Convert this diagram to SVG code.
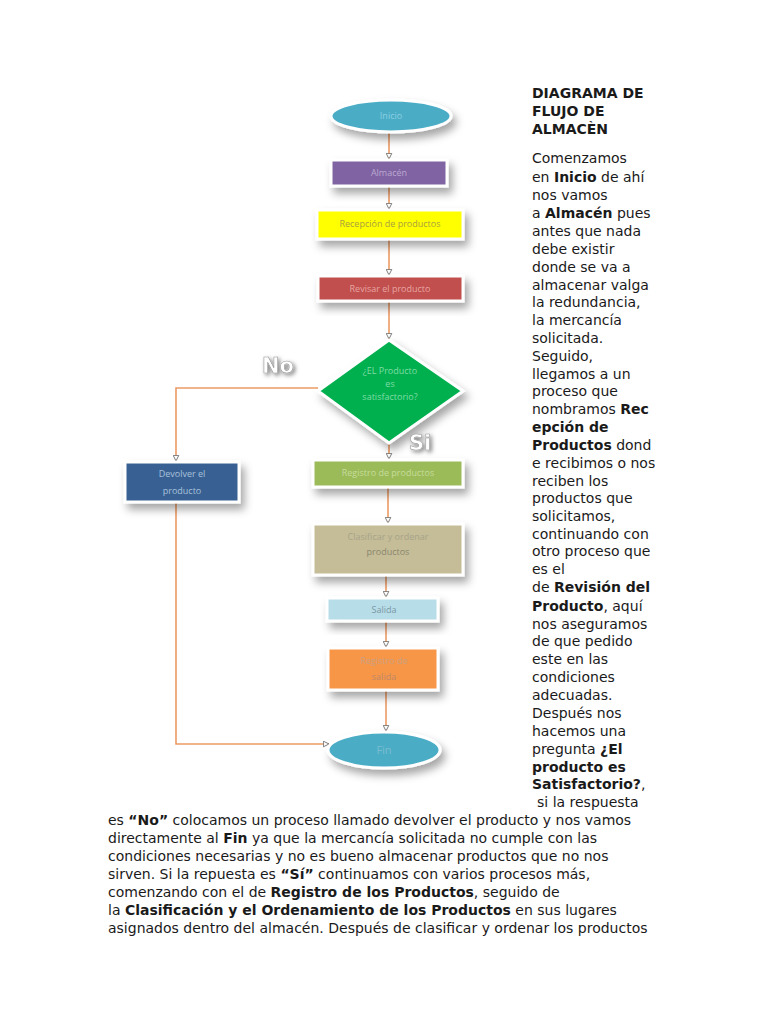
<svg xmlns="http://www.w3.org/2000/svg" width="768" height="1024" viewBox="0 0 768 1024">
<defs>
<filter id="sh" x="-30%" y="-40%" width="170%" height="200%">
<feDropShadow dx="4" dy="6" stdDeviation="4" flood-color="#000" flood-opacity="0.35"/>
</filter>
<filter id="tsh" x="-50%" y="-50%" width="200%" height="200%">
<feDropShadow dx="2" dy="2" stdDeviation="2" flood-color="#000" flood-opacity="0.5"/>
</filter>
<marker id="ah" viewBox="0 0 10 10" refX="9" refY="5" markerWidth="7" markerHeight="7" orient="auto" markerUnits="userSpaceOnUse">
<path d="M1,1 L9,5 L1,9 Z" fill="#fff" stroke="#666" stroke-width="1.2"/>
</marker>
</defs>
<style>
.box{stroke:#fff;stroke-width:3;filter:url(#sh)}
.lbl{font-family:"Open Sans","Liberation Sans",sans-serif;font-size:9px;text-anchor:middle}
.con{fill:none;stroke:#EC9A64;stroke-width:1.6}
.body{font-family:"DejaVu Sans",sans-serif;font-size:14px;fill:#1a1a1a}
.b{font-weight:bold}
.yn{font-family:"DejaVu Sans","Liberation Sans",sans-serif;font-weight:bold;font-size:21px;fill:#fff;stroke:#999;stroke-width:0.6;filter:url(#tsh)}
</style>
<rect width="768" height="1024" fill="#fff"/>

<g id="connectors">
<path class="con" d="M389,133 V159" marker-end="url(#ah)"/>
<path class="con" d="M389,187 V209" marker-end="url(#ah)"/>
<path class="con" d="M389,240 V275" marker-end="url(#ah)"/>
<path class="con" d="M389,302 V339" marker-end="url(#ah)"/>
<path class="con" d="M389,443 V459" marker-end="url(#ah)"/>
<path class="con" d="M388,488 V523" marker-end="url(#ah)"/>
<path class="con" d="M386,576 V597" marker-end="url(#ah)"/>
<path class="con" d="M386,622 V647" marker-end="url(#ah)"/>
<path class="con" d="M386,691 V731" marker-end="url(#ah)"/>
<path class="con" d="M318,388 H176 V461" marker-end="url(#ah)"/>
<path class="con" d="M176,503 V744 H329" marker-end="url(#ah)"/>
</g>

<g id="inicio">
<ellipse class="box" cx="391" cy="116" rx="60" ry="16" fill="#4BACC6"/>
<text class="lbl" x="391" y="119" fill="#8CD0E2">Inicio</text>
</g>
<g id="almacen">
<rect class="box" x="331" y="160" width="116" height="26" fill="#8064A2"/>
<text class="lbl" x="389" y="176" fill="#BBA8D2">Almacén</text>
</g>
<g id="recepcion">
<rect class="box" x="317" y="210" width="146" height="29" fill="#FFFF00"/>
<text class="lbl" x="390" y="227" fill="#A8A040">Recepción de productos</text>
</g>
<g id="revisar">
<rect class="box" x="318" y="276" width="145" height="25" fill="#C0504D"/>
<text class="lbl" x="390" y="292" fill="#E8A4A2">Revisar el producto</text>
</g>
<g id="decision">
<polygon class="box" points="389,340 463,391 389,443 318,391" fill="#00B050"/>
<text class="lbl" x="390" y="374" fill="#7FDCA4">¿EL Producto</text>
<text class="lbl" x="390" y="387" fill="#7FDCA4">es</text>
<text class="lbl" x="390" y="400" fill="#7FDCA4">satisfactorio?</text>
</g>
<text class="yn" x="262" y="373">No</text>
<text class="yn" x="409" y="450">Si</text>
<g id="devolver">
<rect class="box" x="125" y="462" width="114" height="40" fill="#376092"/>
<text class="lbl" x="182" y="477" fill="#A8C0DC">Devolver el</text>
<text class="lbl" x="182" y="494" fill="#A8C0DC">producto</text>
</g>
<g id="registro">
<rect class="box" x="313" y="460" width="150" height="27" fill="#9BBB59"/>
<text class="lbl" x="388" y="476" fill="#C6DC9C">Registro de productos</text>
</g>
<g id="clasificar">
<rect class="box" x="313" y="524" width="150" height="51" fill="#C4BD97"/>
<text class="lbl" x="388" y="540" fill="#A8A38A">Clasificar y ordenar</text>
<text class="lbl" x="388" y="555" fill="#8A866E">productos</text>
</g>
<g id="salida">
<rect class="box" x="327" y="598" width="111" height="23" fill="#B7DDE8"/>
<text class="lbl" x="384" y="613" fill="#7C98A4">Salida</text>
</g>
<g id="registro-salida">
<rect class="box" x="328" y="648" width="110" height="42" fill="#F79646"/>
<text class="lbl" x="384" y="664" fill="#CCA080">Registro de</text>
<text class="lbl" x="384" y="680" fill="#C08868">salida</text>
</g>
<g id="fin">
<ellipse class="box" cx="384" cy="750" rx="56" ry="18" fill="#4BACC6"/>
<text class="lbl" x="384" y="754" fill="#7ABCD0" style="font-size:11px">Fin</text>
</g>

<g id="texto">
<text class="body b" x="532" y="98">DIAGRAMA DE</text>
<text class="body b" x="532" y="116">FLUJO DE</text>
<text class="body b" x="532" y="134">ALMACÈN</text>
<text class="body" x="532" y="163">Comenzamos</text>
<text class="body" x="532" y="182">en <tspan class="b">Inicio</tspan> de ahí</text>
<text class="body" x="532" y="200">nos vamos</text>
<text class="body" x="532" y="218">a <tspan class="b">Almacén</tspan> pues</text>
<text class="body" x="532" y="236">antes que nada</text>
<text class="body" x="532" y="254">debe existir</text>
<text class="body" x="532" y="272">donde se va a</text>
<text class="body" x="532" y="290">almacenar valga</text>
<text class="body" x="532" y="307">la redundancia,</text>
<text class="body" x="532" y="325">la mercancía</text>
<text class="body" x="532" y="343">solicitada.</text>
<text class="body" x="532" y="361">Seguido,</text>
<text class="body" x="532" y="379">llegamos a un</text>
<text class="body" x="532" y="396">proceso que</text>
<text class="body" x="532" y="414">nombramos <tspan class="b">Rec</tspan></text>
<text class="body b" x="532" y="432">epción de</text>
<text class="body" x="532" y="450"><tspan class="b">Productos</tspan> dond</text>
<text class="body" x="532" y="468">e recibimos o nos</text>
<text class="body" x="532" y="486">reciben los</text>
<text class="body" x="532" y="503">productos que</text>
<text class="body" x="532" y="521">solicitamos,</text>
<text class="body" x="532" y="539">continuando con</text>
<text class="body" x="532" y="556">otro proceso que</text>
<text class="body" x="532" y="574">es el</text>
<text class="body" x="532" y="592">de <tspan class="b">Revisión del</tspan></text>
<text class="body" x="532" y="611"><tspan class="b">Producto</tspan>, aquí</text>
<text class="body" x="532" y="629">nos aseguramos</text>
<text class="body" x="532" y="646">de que pedido</text>
<text class="body" x="532" y="664">este en las</text>
<text class="body" x="532" y="682">condiciones</text>
<text class="body" x="532" y="700">adecuadas.</text>
<text class="body" x="532" y="718">Después nos</text>
<text class="body" x="532" y="736">hacemos una</text>
<text class="body" x="532" y="754">pregunta <tspan class="b">¿El</tspan></text>
<text class="body b" x="532" y="772">producto es</text>
<text class="body" x="532" y="789"><tspan class="b">Satisfactorio?</tspan>,</text>
<text class="body" x="537" y="807">si la respuesta</text>
<text class="body" x="108" y="825">es <tspan class="b">“No”</tspan> colocamos un proceso llamado devolver el producto y nos vamos</text>
<text class="body" x="108" y="843">directamente al <tspan class="b">Fin</tspan> ya que la mercancía solicitada no cumple con las</text>
<text class="body" x="108" y="861">condiciones necesarias y no es bueno almacenar productos que no nos</text>
<text class="body" x="108" y="879">sirven. Si la repuesta es <tspan class="b">“Sí”</tspan> continuamos con varios procesos más,</text>
<text class="body" x="108" y="897">comenzando con el de <tspan class="b">Registro de los Productos</tspan>, seguido de</text>
<text class="body" x="108" y="915">la <tspan class="b">Clasificación y el Ordenamiento de los Productos</tspan> en sus lugares</text>
<text class="body" x="108" y="933">asignados dentro del almacén. Después de clasificar y ordenar los productos</text>
</g>
</svg>
